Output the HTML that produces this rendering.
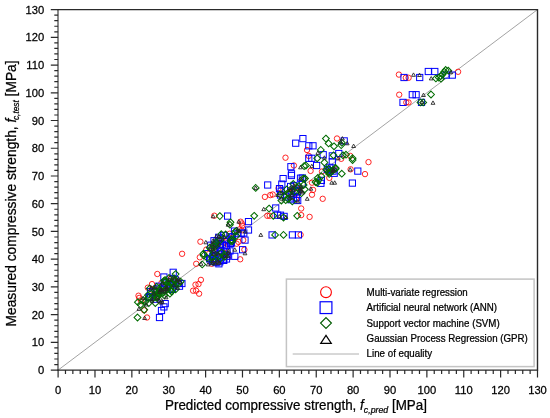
<!DOCTYPE html>
<html><head><meta charset="utf-8"><style>
html,body{margin:0;padding:0;background:#fff;}
svg{display:block;}
text{font-family:"Liberation Sans",Arial,sans-serif;fill:#000;stroke:#000;stroke-width:0.25px;}
.tl{font-size:11.5px;}
.al{font-size:13.9px;}
.al2{font-size:13.8px;}
.lg{font-size:10.2px;}
</style></head><body>
<svg width="550" height="418" viewBox="0 0 550 418">
<line x1="58.1" y1="370.1" x2="537.5" y2="9.6" stroke="#989898" stroke-width="0.9"/>
<circle cx="152.2" cy="289.7" r="2.7" fill="none" stroke="#ff0000" stroke-width="0.85"/>
<circle cx="157.8" cy="296.2" r="2.7" fill="none" stroke="#ff0000" stroke-width="0.85"/>
<circle cx="165.8" cy="288.3" r="2.7" fill="none" stroke="#ff0000" stroke-width="0.85"/>
<circle cx="170.8" cy="278.5" r="2.7" fill="none" stroke="#ff0000" stroke-width="0.85"/>
<circle cx="141.2" cy="301.1" r="2.7" fill="none" stroke="#ff0000" stroke-width="0.85"/>
<circle cx="139.2" cy="297.9" r="2.7" fill="none" stroke="#ff0000" stroke-width="0.85"/>
<circle cx="224.7" cy="248.2" r="2.7" fill="none" stroke="#ff0000" stroke-width="0.85"/>
<circle cx="220.9" cy="253.4" r="2.7" fill="none" stroke="#ff0000" stroke-width="0.85"/>
<circle cx="226.2" cy="240.8" r="2.7" fill="none" stroke="#ff0000" stroke-width="0.85"/>
<circle cx="215.2" cy="259.0" r="2.7" fill="none" stroke="#ff0000" stroke-width="0.85"/>
<circle cx="229.7" cy="233.7" r="2.7" fill="none" stroke="#ff0000" stroke-width="0.85"/>
<circle cx="219.3" cy="251.2" r="2.7" fill="none" stroke="#ff0000" stroke-width="0.85"/>
<circle cx="212.8" cy="251.6" r="2.7" fill="none" stroke="#ff0000" stroke-width="0.85"/>
<circle cx="225.3" cy="242.5" r="2.7" fill="none" stroke="#ff0000" stroke-width="0.85"/>
<circle cx="232.3" cy="237.4" r="2.7" fill="none" stroke="#ff0000" stroke-width="0.85"/>
<circle cx="228.1" cy="256.8" r="2.7" fill="none" stroke="#ff0000" stroke-width="0.85"/>
<circle cx="226.6" cy="240.7" r="2.7" fill="none" stroke="#ff0000" stroke-width="0.85"/>
<circle cx="241.8" cy="230.4" r="2.7" fill="none" stroke="#ff0000" stroke-width="0.85"/>
<circle cx="296.2" cy="187.5" r="2.7" fill="none" stroke="#ff0000" stroke-width="0.85"/>
<circle cx="296.1" cy="199.3" r="2.7" fill="none" stroke="#ff0000" stroke-width="0.85"/>
<circle cx="292.1" cy="196.9" r="2.7" fill="none" stroke="#ff0000" stroke-width="0.85"/>
<circle cx="289.0" cy="192.7" r="2.7" fill="none" stroke="#ff0000" stroke-width="0.85"/>
<circle cx="297.4" cy="192.7" r="2.7" fill="none" stroke="#ff0000" stroke-width="0.85"/>
<circle cx="328.1" cy="172.2" r="2.7" fill="none" stroke="#ff0000" stroke-width="0.85"/>
<circle cx="334.0" cy="169.2" r="2.7" fill="none" stroke="#ff0000" stroke-width="0.85"/>
<circle cx="328.7" cy="171.6" r="2.7" fill="none" stroke="#ff0000" stroke-width="0.85"/>
<circle cx="398.9" cy="74.6" r="2.7" fill="none" stroke="#ff0000" stroke-width="0.85"/>
<circle cx="405.8" cy="77.8" r="2.7" fill="none" stroke="#ff0000" stroke-width="0.85"/>
<circle cx="408.6" cy="77.8" r="2.7" fill="none" stroke="#ff0000" stroke-width="0.85"/>
<circle cx="458.1" cy="71.8" r="2.7" fill="none" stroke="#ff0000" stroke-width="0.85"/>
<circle cx="399.2" cy="94.7" r="2.7" fill="none" stroke="#ff0000" stroke-width="0.85"/>
<circle cx="406.3" cy="102.4" r="2.7" fill="none" stroke="#ff0000" stroke-width="0.85"/>
<circle cx="408.5" cy="102.4" r="2.7" fill="none" stroke="#ff0000" stroke-width="0.85"/>
<circle cx="337.0" cy="138.5" r="2.7" fill="none" stroke="#ff0000" stroke-width="0.85"/>
<circle cx="307.0" cy="150.0" r="2.7" fill="none" stroke="#ff0000" stroke-width="0.85"/>
<circle cx="285.5" cy="157.7" r="2.7" fill="none" stroke="#ff0000" stroke-width="0.85"/>
<circle cx="308.8" cy="155.9" r="2.7" fill="none" stroke="#ff0000" stroke-width="0.85"/>
<circle cx="341.2" cy="158.8" r="2.7" fill="none" stroke="#ff0000" stroke-width="0.85"/>
<circle cx="350.2" cy="155.9" r="2.7" fill="none" stroke="#ff0000" stroke-width="0.85"/>
<circle cx="368.5" cy="162.1" r="2.7" fill="none" stroke="#ff0000" stroke-width="0.85"/>
<circle cx="365.0" cy="174.1" r="2.7" fill="none" stroke="#ff0000" stroke-width="0.85"/>
<circle cx="350.6" cy="169.3" r="2.7" fill="none" stroke="#ff0000" stroke-width="0.85"/>
<circle cx="293.9" cy="165.5" r="2.7" fill="none" stroke="#ff0000" stroke-width="0.85"/>
<circle cx="310.6" cy="170.9" r="2.7" fill="none" stroke="#ff0000" stroke-width="0.85"/>
<circle cx="322.0" cy="171.5" r="2.7" fill="none" stroke="#ff0000" stroke-width="0.85"/>
<circle cx="304.7" cy="178.6" r="2.7" fill="none" stroke="#ff0000" stroke-width="0.85"/>
<circle cx="329.3" cy="177.9" r="2.7" fill="none" stroke="#ff0000" stroke-width="0.85"/>
<circle cx="312.0" cy="182.7" r="2.7" fill="none" stroke="#ff0000" stroke-width="0.85"/>
<circle cx="313.1" cy="189.9" r="2.7" fill="none" stroke="#ff0000" stroke-width="0.85"/>
<circle cx="312.0" cy="194.7" r="2.7" fill="none" stroke="#ff0000" stroke-width="0.85"/>
<circle cx="322.7" cy="198.8" r="2.7" fill="none" stroke="#ff0000" stroke-width="0.85"/>
<circle cx="301.2" cy="208.5" r="2.7" fill="none" stroke="#ff0000" stroke-width="0.85"/>
<circle cx="301.2" cy="215.1" r="2.7" fill="none" stroke="#ff0000" stroke-width="0.85"/>
<circle cx="309.6" cy="216.9" r="2.7" fill="none" stroke="#ff0000" stroke-width="0.85"/>
<circle cx="300.6" cy="234.8" r="2.7" fill="none" stroke="#ff0000" stroke-width="0.85"/>
<circle cx="267.3" cy="215.8" r="2.7" fill="none" stroke="#ff0000" stroke-width="0.85"/>
<circle cx="269.7" cy="215.8" r="2.7" fill="none" stroke="#ff0000" stroke-width="0.85"/>
<circle cx="278.6" cy="188.2" r="2.7" fill="none" stroke="#ff0000" stroke-width="0.85"/>
<circle cx="264.9" cy="196.9" r="2.7" fill="none" stroke="#ff0000" stroke-width="0.85"/>
<circle cx="270.3" cy="195.1" r="2.7" fill="none" stroke="#ff0000" stroke-width="0.85"/>
<circle cx="272.7" cy="194.5" r="2.7" fill="none" stroke="#ff0000" stroke-width="0.85"/>
<circle cx="214.3" cy="215.7" r="2.7" fill="none" stroke="#ff0000" stroke-width="0.85"/>
<circle cx="240.6" cy="221.7" r="2.7" fill="none" stroke="#ff0000" stroke-width="0.85"/>
<circle cx="241.8" cy="223.5" r="2.7" fill="none" stroke="#ff0000" stroke-width="0.85"/>
<circle cx="239.4" cy="229.4" r="2.7" fill="none" stroke="#ff0000" stroke-width="0.85"/>
<circle cx="243.2" cy="240.1" r="2.7" fill="none" stroke="#ff0000" stroke-width="0.85"/>
<circle cx="236.6" cy="243.7" r="2.7" fill="none" stroke="#ff0000" stroke-width="0.85"/>
<circle cx="238.4" cy="241.9" r="2.7" fill="none" stroke="#ff0000" stroke-width="0.85"/>
<circle cx="244.4" cy="249.7" r="2.7" fill="none" stroke="#ff0000" stroke-width="0.85"/>
<circle cx="240.2" cy="259.3" r="2.7" fill="none" stroke="#ff0000" stroke-width="0.85"/>
<circle cx="200.4" cy="241.7" r="2.7" fill="none" stroke="#ff0000" stroke-width="0.85"/>
<circle cx="206.4" cy="249.5" r="2.7" fill="none" stroke="#ff0000" stroke-width="0.85"/>
<circle cx="199.8" cy="257.3" r="2.7" fill="none" stroke="#ff0000" stroke-width="0.85"/>
<circle cx="196.2" cy="263.8" r="2.7" fill="none" stroke="#ff0000" stroke-width="0.85"/>
<circle cx="211.7" cy="263.8" r="2.7" fill="none" stroke="#ff0000" stroke-width="0.85"/>
<circle cx="242.2" cy="225.6" r="2.7" fill="none" stroke="#ff0000" stroke-width="0.85"/>
<circle cx="182.1" cy="253.8" r="2.7" fill="none" stroke="#ff0000" stroke-width="0.85"/>
<circle cx="200.9" cy="279.9" r="2.7" fill="none" stroke="#ff0000" stroke-width="0.85"/>
<circle cx="195.5" cy="284.7" r="2.7" fill="none" stroke="#ff0000" stroke-width="0.85"/>
<circle cx="198.5" cy="284.1" r="2.7" fill="none" stroke="#ff0000" stroke-width="0.85"/>
<circle cx="193.1" cy="290.7" r="2.7" fill="none" stroke="#ff0000" stroke-width="0.85"/>
<circle cx="196.1" cy="290.7" r="2.7" fill="none" stroke="#ff0000" stroke-width="0.85"/>
<circle cx="199.1" cy="293.7" r="2.7" fill="none" stroke="#ff0000" stroke-width="0.85"/>
<circle cx="157.3" cy="274.0" r="2.7" fill="none" stroke="#ff0000" stroke-width="0.85"/>
<circle cx="147.8" cy="287.7" r="2.7" fill="none" stroke="#ff0000" stroke-width="0.85"/>
<circle cx="152.0" cy="284.1" r="2.7" fill="none" stroke="#ff0000" stroke-width="0.85"/>
<circle cx="161.5" cy="282.9" r="2.7" fill="none" stroke="#ff0000" stroke-width="0.85"/>
<circle cx="147.0" cy="317.5" r="2.7" fill="none" stroke="#ff0000" stroke-width="0.85"/>
<circle cx="144.2" cy="310.3" r="2.7" fill="none" stroke="#ff0000" stroke-width="0.85"/>
<circle cx="138.5" cy="295.7" r="2.7" fill="none" stroke="#ff0000" stroke-width="0.85"/>
<rect x="172.0" y="276.4" width="6.2" height="6.2" fill="none" stroke="#0000ff" stroke-width="1"/>
<rect x="145.9" y="294.4" width="6.2" height="6.2" fill="none" stroke="#0000ff" stroke-width="1"/>
<rect x="147.4" y="290.7" width="6.2" height="6.2" fill="none" stroke="#0000ff" stroke-width="1"/>
<rect x="155.7" y="283.1" width="6.2" height="6.2" fill="none" stroke="#0000ff" stroke-width="1"/>
<rect x="159.7" y="286.4" width="6.2" height="6.2" fill="none" stroke="#0000ff" stroke-width="1"/>
<rect x="152.9" y="296.1" width="6.2" height="6.2" fill="none" stroke="#0000ff" stroke-width="1"/>
<rect x="170.4" y="282.1" width="6.2" height="6.2" fill="none" stroke="#0000ff" stroke-width="1"/>
<rect x="176.4" y="283.1" width="6.2" height="6.2" fill="none" stroke="#0000ff" stroke-width="1"/>
<rect x="169.4" y="286.3" width="6.2" height="6.2" fill="none" stroke="#0000ff" stroke-width="1"/>
<rect x="147.5" y="288.6" width="6.2" height="6.2" fill="none" stroke="#0000ff" stroke-width="1"/>
<rect x="161.4" y="282.4" width="6.2" height="6.2" fill="none" stroke="#0000ff" stroke-width="1"/>
<rect x="171.7" y="280.1" width="6.2" height="6.2" fill="none" stroke="#0000ff" stroke-width="1"/>
<rect x="167.3" y="284.8" width="6.2" height="6.2" fill="none" stroke="#0000ff" stroke-width="1"/>
<rect x="175.4" y="280.4" width="6.2" height="6.2" fill="none" stroke="#0000ff" stroke-width="1"/>
<rect x="161.8" y="279.6" width="6.2" height="6.2" fill="none" stroke="#0000ff" stroke-width="1"/>
<rect x="146.3" y="293.6" width="6.2" height="6.2" fill="none" stroke="#0000ff" stroke-width="1"/>
<rect x="166.7" y="280.8" width="6.2" height="6.2" fill="none" stroke="#0000ff" stroke-width="1"/>
<rect x="153.9" y="285.8" width="6.2" height="6.2" fill="none" stroke="#0000ff" stroke-width="1"/>
<rect x="221.7" y="251.4" width="6.2" height="6.2" fill="none" stroke="#0000ff" stroke-width="1"/>
<rect x="224.6" y="253.1" width="6.2" height="6.2" fill="none" stroke="#0000ff" stroke-width="1"/>
<rect x="210.8" y="252.5" width="6.2" height="6.2" fill="none" stroke="#0000ff" stroke-width="1"/>
<rect x="216.7" y="241.8" width="6.2" height="6.2" fill="none" stroke="#0000ff" stroke-width="1"/>
<rect x="220.6" y="232.3" width="6.2" height="6.2" fill="none" stroke="#0000ff" stroke-width="1"/>
<rect x="210.5" y="252.9" width="6.2" height="6.2" fill="none" stroke="#0000ff" stroke-width="1"/>
<rect x="211.5" y="245.9" width="6.2" height="6.2" fill="none" stroke="#0000ff" stroke-width="1"/>
<rect x="215.6" y="238.2" width="6.2" height="6.2" fill="none" stroke="#0000ff" stroke-width="1"/>
<rect x="207.3" y="255.3" width="6.2" height="6.2" fill="none" stroke="#0000ff" stroke-width="1"/>
<rect x="209.9" y="257.7" width="6.2" height="6.2" fill="none" stroke="#0000ff" stroke-width="1"/>
<rect x="216.7" y="243.9" width="6.2" height="6.2" fill="none" stroke="#0000ff" stroke-width="1"/>
<rect x="223.4" y="255.9" width="6.2" height="6.2" fill="none" stroke="#0000ff" stroke-width="1"/>
<rect x="227.3" y="238.9" width="6.2" height="6.2" fill="none" stroke="#0000ff" stroke-width="1"/>
<rect x="219.2" y="241.1" width="6.2" height="6.2" fill="none" stroke="#0000ff" stroke-width="1"/>
<rect x="206.5" y="255.8" width="6.2" height="6.2" fill="none" stroke="#0000ff" stroke-width="1"/>
<rect x="228.2" y="237.6" width="6.2" height="6.2" fill="none" stroke="#0000ff" stroke-width="1"/>
<rect x="217.2" y="235.8" width="6.2" height="6.2" fill="none" stroke="#0000ff" stroke-width="1"/>
<rect x="228.0" y="233.8" width="6.2" height="6.2" fill="none" stroke="#0000ff" stroke-width="1"/>
<rect x="211.7" y="247.2" width="6.2" height="6.2" fill="none" stroke="#0000ff" stroke-width="1"/>
<rect x="209.3" y="258.0" width="6.2" height="6.2" fill="none" stroke="#0000ff" stroke-width="1"/>
<rect x="215.6" y="234.2" width="6.2" height="6.2" fill="none" stroke="#0000ff" stroke-width="1"/>
<rect x="223.4" y="242.7" width="6.2" height="6.2" fill="none" stroke="#0000ff" stroke-width="1"/>
<rect x="217.5" y="241.6" width="6.2" height="6.2" fill="none" stroke="#0000ff" stroke-width="1"/>
<rect x="229.1" y="233.8" width="6.2" height="6.2" fill="none" stroke="#0000ff" stroke-width="1"/>
<rect x="220.3" y="256.6" width="6.2" height="6.2" fill="none" stroke="#0000ff" stroke-width="1"/>
<rect x="210.9" y="237.6" width="6.2" height="6.2" fill="none" stroke="#0000ff" stroke-width="1"/>
<rect x="220.7" y="253.6" width="6.2" height="6.2" fill="none" stroke="#0000ff" stroke-width="1"/>
<rect x="217.5" y="248.0" width="6.2" height="6.2" fill="none" stroke="#0000ff" stroke-width="1"/>
<rect x="220.7" y="257.3" width="6.2" height="6.2" fill="none" stroke="#0000ff" stroke-width="1"/>
<rect x="216.9" y="250.8" width="6.2" height="6.2" fill="none" stroke="#0000ff" stroke-width="1"/>
<rect x="212.0" y="255.3" width="6.2" height="6.2" fill="none" stroke="#0000ff" stroke-width="1"/>
<rect x="209.7" y="253.5" width="6.2" height="6.2" fill="none" stroke="#0000ff" stroke-width="1"/>
<rect x="207.7" y="242.1" width="6.2" height="6.2" fill="none" stroke="#0000ff" stroke-width="1"/>
<rect x="228.1" y="240.1" width="6.2" height="6.2" fill="none" stroke="#0000ff" stroke-width="1"/>
<rect x="204.7" y="250.5" width="6.2" height="6.2" fill="none" stroke="#0000ff" stroke-width="1"/>
<rect x="213.6" y="240.2" width="6.2" height="6.2" fill="none" stroke="#0000ff" stroke-width="1"/>
<rect x="213.0" y="259.5" width="6.2" height="6.2" fill="none" stroke="#0000ff" stroke-width="1"/>
<rect x="229.0" y="236.3" width="6.2" height="6.2" fill="none" stroke="#0000ff" stroke-width="1"/>
<rect x="227.3" y="240.4" width="6.2" height="6.2" fill="none" stroke="#0000ff" stroke-width="1"/>
<rect x="210.7" y="252.1" width="6.2" height="6.2" fill="none" stroke="#0000ff" stroke-width="1"/>
<rect x="213.9" y="237.7" width="6.2" height="6.2" fill="none" stroke="#0000ff" stroke-width="1"/>
<rect x="216.7" y="258.7" width="6.2" height="6.2" fill="none" stroke="#0000ff" stroke-width="1"/>
<rect x="224.0" y="248.7" width="6.2" height="6.2" fill="none" stroke="#0000ff" stroke-width="1"/>
<rect x="216.9" y="251.9" width="6.2" height="6.2" fill="none" stroke="#0000ff" stroke-width="1"/>
<rect x="211.5" y="247.5" width="6.2" height="6.2" fill="none" stroke="#0000ff" stroke-width="1"/>
<rect x="223.1" y="236.1" width="6.2" height="6.2" fill="none" stroke="#0000ff" stroke-width="1"/>
<rect x="226.9" y="247.8" width="6.2" height="6.2" fill="none" stroke="#0000ff" stroke-width="1"/>
<rect x="231.4" y="228.0" width="6.2" height="6.2" fill="none" stroke="#0000ff" stroke-width="1"/>
<rect x="238.1" y="230.2" width="6.2" height="6.2" fill="none" stroke="#0000ff" stroke-width="1"/>
<rect x="234.8" y="230.6" width="6.2" height="6.2" fill="none" stroke="#0000ff" stroke-width="1"/>
<rect x="290.9" y="182.4" width="6.2" height="6.2" fill="none" stroke="#0000ff" stroke-width="1"/>
<rect x="292.3" y="187.9" width="6.2" height="6.2" fill="none" stroke="#0000ff" stroke-width="1"/>
<rect x="287.5" y="183.4" width="6.2" height="6.2" fill="none" stroke="#0000ff" stroke-width="1"/>
<rect x="287.9" y="196.6" width="6.2" height="6.2" fill="none" stroke="#0000ff" stroke-width="1"/>
<rect x="290.4" y="194.9" width="6.2" height="6.2" fill="none" stroke="#0000ff" stroke-width="1"/>
<rect x="288.7" y="191.6" width="6.2" height="6.2" fill="none" stroke="#0000ff" stroke-width="1"/>
<rect x="294.4" y="188.7" width="6.2" height="6.2" fill="none" stroke="#0000ff" stroke-width="1"/>
<rect x="278.1" y="188.2" width="6.2" height="6.2" fill="none" stroke="#0000ff" stroke-width="1"/>
<rect x="293.2" y="194.8" width="6.2" height="6.2" fill="none" stroke="#0000ff" stroke-width="1"/>
<rect x="283.7" y="193.8" width="6.2" height="6.2" fill="none" stroke="#0000ff" stroke-width="1"/>
<rect x="326.7" y="164.2" width="6.2" height="6.2" fill="none" stroke="#0000ff" stroke-width="1"/>
<rect x="331.1" y="170.2" width="6.2" height="6.2" fill="none" stroke="#0000ff" stroke-width="1"/>
<rect x="324.2" y="166.4" width="6.2" height="6.2" fill="none" stroke="#0000ff" stroke-width="1"/>
<rect x="329.9" y="168.0" width="6.2" height="6.2" fill="none" stroke="#0000ff" stroke-width="1"/>
<rect x="400.9" y="74.4" width="6.2" height="6.2" fill="none" stroke="#0000ff" stroke-width="1"/>
<rect x="416.6" y="74.4" width="6.2" height="6.2" fill="none" stroke="#0000ff" stroke-width="1"/>
<rect x="425.2" y="68.4" width="6.2" height="6.2" fill="none" stroke="#0000ff" stroke-width="1"/>
<rect x="431.7" y="68.4" width="6.2" height="6.2" fill="none" stroke="#0000ff" stroke-width="1"/>
<rect x="443.0" y="72.0" width="6.2" height="6.2" fill="none" stroke="#0000ff" stroke-width="1"/>
<rect x="449.2" y="72.0" width="6.2" height="6.2" fill="none" stroke="#0000ff" stroke-width="1"/>
<rect x="409.2" y="91.6" width="6.2" height="6.2" fill="none" stroke="#0000ff" stroke-width="1"/>
<rect x="413.0" y="91.6" width="6.2" height="6.2" fill="none" stroke="#0000ff" stroke-width="1"/>
<rect x="399.9" y="99.3" width="6.2" height="6.2" fill="none" stroke="#0000ff" stroke-width="1"/>
<rect x="418.4" y="99.3" width="6.2" height="6.2" fill="none" stroke="#0000ff" stroke-width="1"/>
<rect x="299.8" y="135.5" width="6.2" height="6.2" fill="none" stroke="#0000ff" stroke-width="1"/>
<rect x="292.6" y="140.1" width="6.2" height="6.2" fill="none" stroke="#0000ff" stroke-width="1"/>
<rect x="305.7" y="142.7" width="6.2" height="6.2" fill="none" stroke="#0000ff" stroke-width="1"/>
<rect x="309.9" y="142.7" width="6.2" height="6.2" fill="none" stroke="#0000ff" stroke-width="1"/>
<rect x="341.1" y="137.8" width="6.2" height="6.2" fill="none" stroke="#0000ff" stroke-width="1"/>
<rect x="305.7" y="155.2" width="6.2" height="6.2" fill="none" stroke="#0000ff" stroke-width="1"/>
<rect x="308.7" y="155.2" width="6.2" height="6.2" fill="none" stroke="#0000ff" stroke-width="1"/>
<rect x="320.1" y="151.6" width="6.2" height="6.2" fill="none" stroke="#0000ff" stroke-width="1"/>
<rect x="329.2" y="152.8" width="6.2" height="6.2" fill="none" stroke="#0000ff" stroke-width="1"/>
<rect x="335.7" y="150.4" width="6.2" height="6.2" fill="none" stroke="#0000ff" stroke-width="1"/>
<rect x="354.7" y="168.0" width="6.2" height="6.2" fill="none" stroke="#0000ff" stroke-width="1"/>
<rect x="349.3" y="180.0" width="6.2" height="6.2" fill="none" stroke="#0000ff" stroke-width="1"/>
<rect x="287.8" y="163.6" width="6.2" height="6.2" fill="none" stroke="#0000ff" stroke-width="1"/>
<rect x="313.5" y="162.4" width="6.2" height="6.2" fill="none" stroke="#0000ff" stroke-width="1"/>
<rect x="329.2" y="158.7" width="6.2" height="6.2" fill="none" stroke="#0000ff" stroke-width="1"/>
<rect x="288.4" y="170.7" width="6.2" height="6.2" fill="none" stroke="#0000ff" stroke-width="1"/>
<rect x="280.0" y="175.5" width="6.2" height="6.2" fill="none" stroke="#0000ff" stroke-width="1"/>
<rect x="299.2" y="174.9" width="6.2" height="6.2" fill="none" stroke="#0000ff" stroke-width="1"/>
<rect x="318.3" y="177.3" width="6.2" height="6.2" fill="none" stroke="#0000ff" stroke-width="1"/>
<rect x="326.8" y="167.7" width="6.2" height="6.2" fill="none" stroke="#0000ff" stroke-width="1"/>
<rect x="317.8" y="180.2" width="6.2" height="6.2" fill="none" stroke="#0000ff" stroke-width="1"/>
<rect x="299.3" y="180.8" width="6.2" height="6.2" fill="none" stroke="#0000ff" stroke-width="1"/>
<rect x="295.3" y="231.8" width="6.2" height="6.2" fill="none" stroke="#0000ff" stroke-width="1"/>
<rect x="289.3" y="231.8" width="6.2" height="6.2" fill="none" stroke="#0000ff" stroke-width="1"/>
<rect x="269.0" y="231.8" width="6.2" height="6.2" fill="none" stroke="#0000ff" stroke-width="1"/>
<rect x="272.6" y="204.9" width="6.2" height="6.2" fill="none" stroke="#0000ff" stroke-width="1"/>
<rect x="274.4" y="212.1" width="6.2" height="6.2" fill="none" stroke="#0000ff" stroke-width="1"/>
<rect x="277.4" y="212.1" width="6.2" height="6.2" fill="none" stroke="#0000ff" stroke-width="1"/>
<rect x="281.0" y="213.3" width="6.2" height="6.2" fill="none" stroke="#0000ff" stroke-width="1"/>
<rect x="288.3" y="172.4" width="6.2" height="6.2" fill="none" stroke="#0000ff" stroke-width="1"/>
<rect x="264.6" y="181.9" width="6.2" height="6.2" fill="none" stroke="#0000ff" stroke-width="1"/>
<rect x="278.7" y="181.0" width="6.2" height="6.2" fill="none" stroke="#0000ff" stroke-width="1"/>
<rect x="297.4" y="175.1" width="6.2" height="6.2" fill="none" stroke="#0000ff" stroke-width="1"/>
<rect x="276.4" y="185.5" width="6.2" height="6.2" fill="none" stroke="#0000ff" stroke-width="1"/>
<rect x="277.4" y="191.9" width="6.2" height="6.2" fill="none" stroke="#0000ff" stroke-width="1"/>
<rect x="292.8" y="187.4" width="6.2" height="6.2" fill="none" stroke="#0000ff" stroke-width="1"/>
<rect x="294.6" y="197.4" width="6.2" height="6.2" fill="none" stroke="#0000ff" stroke-width="1"/>
<rect x="224.5" y="213.0" width="6.2" height="6.2" fill="none" stroke="#0000ff" stroke-width="1"/>
<rect x="245.4" y="218.5" width="6.2" height="6.2" fill="none" stroke="#0000ff" stroke-width="1"/>
<rect x="245.4" y="226.9" width="6.2" height="6.2" fill="none" stroke="#0000ff" stroke-width="1"/>
<rect x="240.7" y="229.9" width="6.2" height="6.2" fill="none" stroke="#0000ff" stroke-width="1"/>
<rect x="241.9" y="237.0" width="6.2" height="6.2" fill="none" stroke="#0000ff" stroke-width="1"/>
<rect x="239.5" y="246.6" width="6.2" height="6.2" fill="none" stroke="#0000ff" stroke-width="1"/>
<rect x="231.7" y="253.2" width="6.2" height="6.2" fill="none" stroke="#0000ff" stroke-width="1"/>
<rect x="215.8" y="260.7" width="6.2" height="6.2" fill="none" stroke="#0000ff" stroke-width="1"/>
<rect x="170.1" y="269.2" width="6.2" height="6.2" fill="none" stroke="#0000ff" stroke-width="1"/>
<rect x="160.8" y="273.9" width="6.2" height="6.2" fill="none" stroke="#0000ff" stroke-width="1"/>
<rect x="158.4" y="307.4" width="6.2" height="6.2" fill="none" stroke="#0000ff" stroke-width="1"/>
<rect x="160.8" y="303.8" width="6.2" height="6.2" fill="none" stroke="#0000ff" stroke-width="1"/>
<rect x="178.8" y="280.4" width="6.2" height="6.2" fill="none" stroke="#0000ff" stroke-width="1"/>
<rect x="156.4" y="314.4" width="6.2" height="6.2" fill="none" stroke="#0000ff" stroke-width="1"/>
<rect x="162.1" y="300.5" width="6.2" height="6.2" fill="none" stroke="#0000ff" stroke-width="1"/>
<path d="M169.1 274.6L172.5 278.0L169.1 281.4L165.7 278.0Z" fill="none" stroke="#006c00" stroke-width="1.05"/>
<path d="M174.7 277.7L178.1 281.1L174.7 284.5L171.3 281.1Z" fill="none" stroke="#006c00" stroke-width="1.05"/>
<path d="M168.7 283.0L172.1 286.4L168.7 289.8L165.3 286.4Z" fill="none" stroke="#006c00" stroke-width="1.05"/>
<path d="M154.0 291.7L157.4 295.1L154.0 298.5L150.6 295.1Z" fill="none" stroke="#006c00" stroke-width="1.05"/>
<path d="M157.7 289.0L161.1 292.4L157.7 295.8L154.3 292.4Z" fill="none" stroke="#006c00" stroke-width="1.05"/>
<path d="M155.3 288.7L158.7 292.1L155.3 295.5L151.9 292.1Z" fill="none" stroke="#006c00" stroke-width="1.05"/>
<path d="M157.7 292.1L161.1 295.5L157.7 298.9L154.3 295.5Z" fill="none" stroke="#006c00" stroke-width="1.05"/>
<path d="M156.7 283.4L160.1 286.8L156.7 290.2L153.3 286.8Z" fill="none" stroke="#006c00" stroke-width="1.05"/>
<path d="M149.7 285.2L153.1 288.6L149.7 292.0L146.3 288.6Z" fill="none" stroke="#006c00" stroke-width="1.05"/>
<path d="M176.4 280.4L179.8 283.8L176.4 287.2L173.0 283.8Z" fill="none" stroke="#006c00" stroke-width="1.05"/>
<path d="M163.5 289.1L166.9 292.5L163.5 295.9L160.1 292.5Z" fill="none" stroke="#006c00" stroke-width="1.05"/>
<path d="M170.5 287.0L173.9 290.4L170.5 293.8L167.1 290.4Z" fill="none" stroke="#006c00" stroke-width="1.05"/>
<path d="M174.1 283.6L177.5 287.0L174.1 290.4L170.7 287.0Z" fill="none" stroke="#006c00" stroke-width="1.05"/>
<path d="M165.0 276.7L168.4 280.1L165.0 283.5L161.6 280.1Z" fill="none" stroke="#006c00" stroke-width="1.05"/>
<path d="M170.7 279.9L174.1 283.3L170.7 286.7L167.3 283.3Z" fill="none" stroke="#006c00" stroke-width="1.05"/>
<path d="M152.7 294.2L156.1 297.6L152.7 301.0L149.3 297.6Z" fill="none" stroke="#006c00" stroke-width="1.05"/>
<path d="M154.7 287.1L158.1 290.5L154.7 293.9L151.3 290.5Z" fill="none" stroke="#006c00" stroke-width="1.05"/>
<path d="M175.6 286.0L179.0 289.4L175.6 292.8L172.2 289.4Z" fill="none" stroke="#006c00" stroke-width="1.05"/>
<path d="M174.2 275.0L177.6 278.4L174.2 281.8L170.8 278.4Z" fill="none" stroke="#006c00" stroke-width="1.05"/>
<path d="M169.3 282.4L172.7 285.8L169.3 289.2L165.9 285.8Z" fill="none" stroke="#006c00" stroke-width="1.05"/>
<path d="M166.9 279.9L170.3 283.3L166.9 286.7L163.5 283.3Z" fill="none" stroke="#006c00" stroke-width="1.05"/>
<path d="M159.0 285.4L162.4 288.8L159.0 292.2L155.6 288.8Z" fill="none" stroke="#006c00" stroke-width="1.05"/>
<path d="M164.1 287.5L167.5 290.9L164.1 294.3L160.7 290.9Z" fill="none" stroke="#006c00" stroke-width="1.05"/>
<path d="M174.2 277.4L177.6 280.8L174.2 284.2L170.8 280.8Z" fill="none" stroke="#006c00" stroke-width="1.05"/>
<path d="M171.7 288.2L175.1 291.6L171.7 295.0L168.3 291.6Z" fill="none" stroke="#006c00" stroke-width="1.05"/>
<path d="M156.4 294.2L159.8 297.6L156.4 301.0L153.0 297.6Z" fill="none" stroke="#006c00" stroke-width="1.05"/>
<path d="M162.1 289.8L165.5 293.2L162.1 296.6L158.7 293.2Z" fill="none" stroke="#006c00" stroke-width="1.05"/>
<path d="M164.4 292.0L167.8 295.4L164.4 298.8L161.0 295.4Z" fill="none" stroke="#006c00" stroke-width="1.05"/>
<path d="M179.0 279.9L182.4 283.3L179.0 286.7L175.6 283.3Z" fill="none" stroke="#006c00" stroke-width="1.05"/>
<path d="M175.3 277.1L178.7 280.5L175.3 283.9L171.9 280.5Z" fill="none" stroke="#006c00" stroke-width="1.05"/>
<path d="M158.3 290.1L161.7 293.5L158.3 296.9L154.9 293.5Z" fill="none" stroke="#006c00" stroke-width="1.05"/>
<path d="M148.3 294.4L151.7 297.8L148.3 301.2L144.9 297.8Z" fill="none" stroke="#006c00" stroke-width="1.05"/>
<path d="M162.4 282.1L165.8 285.5L162.4 288.9L159.0 285.5Z" fill="none" stroke="#006c00" stroke-width="1.05"/>
<path d="M157.4 293.9L160.8 297.3L157.4 300.7L154.0 297.3Z" fill="none" stroke="#006c00" stroke-width="1.05"/>
<path d="M164.0 277.6L167.4 281.0L164.0 284.4L160.6 281.0Z" fill="none" stroke="#006c00" stroke-width="1.05"/>
<path d="M165.7 277.9L169.1 281.3L165.7 284.7L162.3 281.3Z" fill="none" stroke="#006c00" stroke-width="1.05"/>
<path d="M168.6 283.9L172.0 287.3L168.6 290.7L165.2 287.3Z" fill="none" stroke="#006c00" stroke-width="1.05"/>
<path d="M155.3 299.6L158.7 303.0L155.3 306.4L151.9 303.0Z" fill="none" stroke="#006c00" stroke-width="1.05"/>
<path d="M160.0 285.9L163.4 289.3L160.0 292.7L156.6 289.3Z" fill="none" stroke="#006c00" stroke-width="1.05"/>
<path d="M145.4 298.1L148.8 301.5L145.4 304.9L142.0 301.5Z" fill="none" stroke="#006c00" stroke-width="1.05"/>
<path d="M140.6 301.2L144.0 304.6L140.6 308.0L137.2 304.6Z" fill="none" stroke="#006c00" stroke-width="1.05"/>
<path d="M148.8 299.6L152.2 303.0L148.8 306.4L145.4 303.0Z" fill="none" stroke="#006c00" stroke-width="1.05"/>
<path d="M147.9 291.8L151.3 295.2L147.9 298.6L144.5 295.2Z" fill="none" stroke="#006c00" stroke-width="1.05"/>
<path d="M220.1 255.5L223.5 258.9L220.1 262.3L216.7 258.9Z" fill="none" stroke="#006c00" stroke-width="1.05"/>
<path d="M221.5 249.1L224.9 252.5L221.5 255.9L218.1 252.5Z" fill="none" stroke="#006c00" stroke-width="1.05"/>
<path d="M224.8 253.4L228.2 256.8L224.8 260.2L221.4 256.8Z" fill="none" stroke="#006c00" stroke-width="1.05"/>
<path d="M224.5 251.1L227.9 254.5L224.5 257.9L221.1 254.5Z" fill="none" stroke="#006c00" stroke-width="1.05"/>
<path d="M231.6 236.1L235.0 239.5L231.6 242.9L228.2 239.5Z" fill="none" stroke="#006c00" stroke-width="1.05"/>
<path d="M225.7 231.1L229.1 234.5L225.7 237.9L222.3 234.5Z" fill="none" stroke="#006c00" stroke-width="1.05"/>
<path d="M218.7 252.9L222.1 256.3L218.7 259.7L215.3 256.3Z" fill="none" stroke="#006c00" stroke-width="1.05"/>
<path d="M215.9 238.8L219.3 242.2L215.9 245.6L212.5 242.2Z" fill="none" stroke="#006c00" stroke-width="1.05"/>
<path d="M232.4 237.7L235.8 241.1L232.4 244.5L229.0 241.1Z" fill="none" stroke="#006c00" stroke-width="1.05"/>
<path d="M211.0 245.8L214.4 249.2L211.0 252.6L207.6 249.2Z" fill="none" stroke="#006c00" stroke-width="1.05"/>
<path d="M221.3 230.8L224.7 234.2L221.3 237.6L217.9 234.2Z" fill="none" stroke="#006c00" stroke-width="1.05"/>
<path d="M213.0 258.1L216.4 261.5L213.0 264.9L209.6 261.5Z" fill="none" stroke="#006c00" stroke-width="1.05"/>
<path d="M213.5 249.3L216.9 252.7L213.5 256.1L210.1 252.7Z" fill="none" stroke="#006c00" stroke-width="1.05"/>
<path d="M215.8 242.6L219.2 246.0L215.8 249.4L212.4 246.0Z" fill="none" stroke="#006c00" stroke-width="1.05"/>
<path d="M212.2 254.3L215.6 257.7L212.2 261.1L208.8 257.7Z" fill="none" stroke="#006c00" stroke-width="1.05"/>
<path d="M230.9 237.6L234.3 241.0L230.9 244.4L227.5 241.0Z" fill="none" stroke="#006c00" stroke-width="1.05"/>
<path d="M215.3 240.8L218.7 244.2L215.3 247.6L211.9 244.2Z" fill="none" stroke="#006c00" stroke-width="1.05"/>
<path d="M213.1 242.5L216.5 245.9L213.1 249.3L209.7 245.9Z" fill="none" stroke="#006c00" stroke-width="1.05"/>
<path d="M220.2 236.8L223.6 240.2L220.2 243.6L216.8 240.2Z" fill="none" stroke="#006c00" stroke-width="1.05"/>
<path d="M209.7 244.3L213.1 247.7L209.7 251.1L206.3 247.7Z" fill="none" stroke="#006c00" stroke-width="1.05"/>
<path d="M236.3 232.4L239.7 235.8L236.3 239.2L232.9 235.8Z" fill="none" stroke="#006c00" stroke-width="1.05"/>
<path d="M236.4 227.4L239.8 230.8L236.4 234.2L233.0 230.8Z" fill="none" stroke="#006c00" stroke-width="1.05"/>
<path d="M235.2 228.4L238.6 231.8L235.2 235.2L231.8 231.8Z" fill="none" stroke="#006c00" stroke-width="1.05"/>
<path d="M285.7 196.8L289.1 200.2L285.7 203.6L282.3 200.2Z" fill="none" stroke="#006c00" stroke-width="1.05"/>
<path d="M292.2 186.7L295.6 190.1L292.2 193.5L288.8 190.1Z" fill="none" stroke="#006c00" stroke-width="1.05"/>
<path d="M288.2 195.6L291.6 199.0L288.2 202.4L284.8 199.0Z" fill="none" stroke="#006c00" stroke-width="1.05"/>
<path d="M280.2 191.2L283.6 194.6L280.2 198.0L276.8 194.6Z" fill="none" stroke="#006c00" stroke-width="1.05"/>
<path d="M297.6 184.4L301.0 187.8L297.6 191.2L294.2 187.8Z" fill="none" stroke="#006c00" stroke-width="1.05"/>
<path d="M288.0 189.4L291.4 192.8L288.0 196.2L284.6 192.8Z" fill="none" stroke="#006c00" stroke-width="1.05"/>
<path d="M299.0 182.6L302.4 186.0L299.0 189.4L295.6 186.0Z" fill="none" stroke="#006c00" stroke-width="1.05"/>
<path d="M288.5 190.5L291.9 193.9L288.5 197.3L285.1 193.9Z" fill="none" stroke="#006c00" stroke-width="1.05"/>
<path d="M294.5 188.2L297.9 191.6L294.5 195.0L291.1 191.6Z" fill="none" stroke="#006c00" stroke-width="1.05"/>
<path d="M328.5 165.4L331.9 168.8L328.5 172.2L325.1 168.8Z" fill="none" stroke="#006c00" stroke-width="1.05"/>
<path d="M335.4 164.4L338.8 167.8L335.4 171.2L332.0 167.8Z" fill="none" stroke="#006c00" stroke-width="1.05"/>
<path d="M329.2 170.5L332.6 173.9L329.2 177.3L325.8 173.9Z" fill="none" stroke="#006c00" stroke-width="1.05"/>
<path d="M330.3 169.0L333.7 172.4L330.3 175.8L326.9 172.4Z" fill="none" stroke="#006c00" stroke-width="1.05"/>
<path d="M335.8 165.4L339.2 168.8L335.8 172.2L332.4 168.8Z" fill="none" stroke="#006c00" stroke-width="1.05"/>
<path d="M333.4 166.6L336.8 170.0L333.4 173.4L330.0 170.0Z" fill="none" stroke="#006c00" stroke-width="1.05"/>
<path d="M435.9 75.0L439.3 78.4L435.9 81.8L432.5 78.4Z" fill="none" stroke="#006c00" stroke-width="1.05"/>
<path d="M438.8 74.2L442.2 77.6L438.8 81.0L435.4 77.6Z" fill="none" stroke="#006c00" stroke-width="1.05"/>
<path d="M440.6 72.8L444.0 76.2L440.6 79.6L437.2 76.2Z" fill="none" stroke="#006c00" stroke-width="1.05"/>
<path d="M442.5 71.0L445.9 74.4L442.5 77.8L439.1 74.4Z" fill="none" stroke="#006c00" stroke-width="1.05"/>
<path d="M444.3 68.4L447.7 71.8L444.3 75.2L440.9 71.8Z" fill="none" stroke="#006c00" stroke-width="1.05"/>
<path d="M445.7 66.6L449.1 70.0L445.7 73.4L442.3 70.0Z" fill="none" stroke="#006c00" stroke-width="1.05"/>
<path d="M441.0 75.3L444.4 78.7L441.0 82.1L437.6 78.7Z" fill="none" stroke="#006c00" stroke-width="1.05"/>
<path d="M448.3 67.3L451.7 70.7L448.3 74.1L444.9 70.7Z" fill="none" stroke="#006c00" stroke-width="1.05"/>
<path d="M431.0 91.1L434.4 94.5L431.0 97.9L427.6 94.5Z" fill="none" stroke="#006c00" stroke-width="1.05"/>
<path d="M420.5 99.0L423.9 102.4L420.5 105.8L417.1 102.4Z" fill="none" stroke="#006c00" stroke-width="1.05"/>
<path d="M423.2 99.0L426.6 102.4L423.2 105.8L419.8 102.4Z" fill="none" stroke="#006c00" stroke-width="1.05"/>
<path d="M325.9 135.2L329.3 138.6L325.9 142.0L322.5 138.6Z" fill="none" stroke="#006c00" stroke-width="1.05"/>
<path d="M328.6 140.0L332.0 143.4L328.6 146.8L325.2 143.4Z" fill="none" stroke="#006c00" stroke-width="1.05"/>
<path d="M341.8 139.3L345.2 142.7L341.8 146.1L338.4 142.7Z" fill="none" stroke="#006c00" stroke-width="1.05"/>
<path d="M341.2 141.7L344.6 145.1L341.2 148.5L337.8 145.1Z" fill="none" stroke="#006c00" stroke-width="1.05"/>
<path d="M334.0 142.9L337.4 146.3L334.0 149.7L330.6 146.3Z" fill="none" stroke="#006c00" stroke-width="1.05"/>
<path d="M320.8 146.5L324.2 149.9L320.8 153.3L317.4 149.9Z" fill="none" stroke="#006c00" stroke-width="1.05"/>
<path d="M317.2 154.9L320.6 158.3L317.2 161.7L313.8 158.3Z" fill="none" stroke="#006c00" stroke-width="1.05"/>
<path d="M324.4 159.1L327.8 162.5L324.4 165.9L321.0 162.5Z" fill="none" stroke="#006c00" stroke-width="1.05"/>
<path d="M333.5 151.9L336.9 155.3L333.5 158.7L330.1 155.3Z" fill="none" stroke="#006c00" stroke-width="1.05"/>
<path d="M343.0 151.9L346.4 155.3L343.0 158.7L339.6 155.3Z" fill="none" stroke="#006c00" stroke-width="1.05"/>
<path d="M346.0 151.3L349.4 154.7L346.0 158.1L342.6 154.7Z" fill="none" stroke="#006c00" stroke-width="1.05"/>
<path d="M352.6 154.8L356.0 158.2L352.6 161.6L349.2 158.2Z" fill="none" stroke="#006c00" stroke-width="1.05"/>
<path d="M304.1 162.7L307.5 166.1L304.1 169.5L300.7 166.1Z" fill="none" stroke="#006c00" stroke-width="1.05"/>
<path d="M305.9 162.1L309.3 165.5L305.9 168.9L302.5 165.5Z" fill="none" stroke="#006c00" stroke-width="1.05"/>
<path d="M352.6 156.6L356.0 160.0L352.6 163.4L349.2 160.0Z" fill="none" stroke="#006c00" stroke-width="1.05"/>
<path d="M326.2 166.3L329.6 169.7L326.2 173.1L322.8 169.7Z" fill="none" stroke="#006c00" stroke-width="1.05"/>
<path d="M328.6 168.6L332.0 172.0L328.6 175.4L325.2 172.0Z" fill="none" stroke="#006c00" stroke-width="1.05"/>
<path d="M317.8 174.6L321.2 178.0L317.8 181.4L314.4 178.0Z" fill="none" stroke="#006c00" stroke-width="1.05"/>
<path d="M321.4 172.8L324.8 176.2L321.4 179.6L318.0 176.2Z" fill="none" stroke="#006c00" stroke-width="1.05"/>
<path d="M317.2 179.4L320.6 182.8L317.2 186.2L313.8 182.8Z" fill="none" stroke="#006c00" stroke-width="1.05"/>
<path d="M293.3 180.6L296.7 184.0L293.3 187.4L289.9 184.0Z" fill="none" stroke="#006c00" stroke-width="1.05"/>
<path d="M341.8 170.3L345.2 173.7L341.8 177.1L338.4 173.7Z" fill="none" stroke="#006c00" stroke-width="1.05"/>
<path d="M315.5 178.7L318.9 182.1L315.5 185.5L312.1 182.1Z" fill="none" stroke="#006c00" stroke-width="1.05"/>
<path d="M318.5 176.9L321.9 180.3L318.5 183.7L315.1 180.3Z" fill="none" stroke="#006c00" stroke-width="1.05"/>
<path d="M303.6 181.7L307.0 185.1L303.6 188.5L300.2 185.1Z" fill="none" stroke="#006c00" stroke-width="1.05"/>
<path d="M304.8 185.9L308.2 189.3L304.8 192.7L301.4 189.3Z" fill="none" stroke="#006c00" stroke-width="1.05"/>
<path d="M283.5 231.5L286.9 234.9L283.5 238.3L280.1 234.9Z" fill="none" stroke="#006c00" stroke-width="1.05"/>
<path d="M275.1 231.5L278.5 234.9L275.1 238.3L271.7 234.9Z" fill="none" stroke="#006c00" stroke-width="1.05"/>
<path d="M269.1 205.2L272.5 208.6L269.1 212.0L265.7 208.6Z" fill="none" stroke="#006c00" stroke-width="1.05"/>
<path d="M254.2 212.4L257.6 215.8L254.2 219.2L250.8 215.8Z" fill="none" stroke="#006c00" stroke-width="1.05"/>
<path d="M273.3 212.4L276.7 215.8L273.3 219.2L269.9 215.8Z" fill="none" stroke="#006c00" stroke-width="1.05"/>
<path d="M283.5 214.1L286.9 217.5L283.5 220.9L280.1 217.5Z" fill="none" stroke="#006c00" stroke-width="1.05"/>
<path d="M297.2 212.4L300.6 215.8L297.2 219.2L293.8 215.8Z" fill="none" stroke="#006c00" stroke-width="1.05"/>
<path d="M305.0 175.2L308.4 178.6L305.0 182.0L301.6 178.6Z" fill="none" stroke="#006c00" stroke-width="1.05"/>
<path d="M303.2 175.2L306.6 178.6L303.2 182.0L299.8 178.6Z" fill="none" stroke="#006c00" stroke-width="1.05"/>
<path d="M301.4 189.8L304.8 193.2L301.4 196.6L298.0 193.2Z" fill="none" stroke="#006c00" stroke-width="1.05"/>
<path d="M286.8 186.1L290.2 189.5L286.8 192.9L283.4 189.5Z" fill="none" stroke="#006c00" stroke-width="1.05"/>
<path d="M284.1 192.5L287.5 195.9L284.1 199.3L280.7 195.9Z" fill="none" stroke="#006c00" stroke-width="1.05"/>
<path d="M292.3 198.0L295.7 201.4L292.3 204.8L288.9 201.4Z" fill="none" stroke="#006c00" stroke-width="1.05"/>
<path d="M281.4 197.1L284.8 200.5L281.4 203.9L278.0 200.5Z" fill="none" stroke="#006c00" stroke-width="1.05"/>
<path d="M255.7 184.5L259.1 187.9L255.7 191.3L252.3 187.9Z" fill="none" stroke="#006c00" stroke-width="1.05"/>
<path d="M219.8 212.7L223.2 216.1L219.8 219.5L216.4 216.1Z" fill="none" stroke="#006c00" stroke-width="1.05"/>
<path d="M230.5 218.9L233.9 222.3L230.5 225.7L227.1 222.3Z" fill="none" stroke="#006c00" stroke-width="1.05"/>
<path d="M229.9 221.3L233.3 224.7L229.9 228.1L226.5 224.7Z" fill="none" stroke="#006c00" stroke-width="1.05"/>
<path d="M202.2 261.0L205.6 264.4L202.2 267.8L198.8 264.4Z" fill="none" stroke="#006c00" stroke-width="1.05"/>
<path d="M203.4 250.3L206.8 253.7L203.4 257.1L200.0 253.7Z" fill="none" stroke="#006c00" stroke-width="1.05"/>
<path d="M203.7 252.2L207.1 255.6L203.7 259.0L200.3 255.6Z" fill="none" stroke="#006c00" stroke-width="1.05"/>
<path d="M207.2 254.5L210.6 257.9L207.2 261.3L203.8 257.9Z" fill="none" stroke="#006c00" stroke-width="1.05"/>
<path d="M175.6 270.7L179.0 274.1L175.6 277.5L172.2 274.1Z" fill="none" stroke="#006c00" stroke-width="1.05"/>
<path d="M169.9 290.3L173.3 293.7L169.9 297.1L166.5 293.7Z" fill="none" stroke="#006c00" stroke-width="1.05"/>
<path d="M180.7 278.3L184.1 281.7L180.7 285.1L177.3 281.7Z" fill="none" stroke="#006c00" stroke-width="1.05"/>
<path d="M137.5 314.1L140.9 317.5L137.5 320.9L134.1 317.5Z" fill="none" stroke="#006c00" stroke-width="1.05"/>
<path d="M137.9 298.8L141.3 302.2L137.9 305.6L134.5 302.2Z" fill="none" stroke="#006c00" stroke-width="1.05"/>
<path d="M144.2 306.4L147.6 309.8L144.2 313.2L140.8 309.8Z" fill="none" stroke="#006c00" stroke-width="1.05"/>
<path d="M142.7 297.1L146.1 300.5L142.7 303.9L139.3 300.5Z" fill="none" stroke="#006c00" stroke-width="1.05"/>
<path d="M166.6 285.2L168.5 288.6L164.7 288.6Z" fill="none" stroke="#262626" stroke-width="0.9"/>
<path d="M157.2 296.3L159.1 299.7L155.3 299.7Z" fill="none" stroke="#262626" stroke-width="0.9"/>
<path d="M151.0 285.8L152.9 289.2L149.1 289.2Z" fill="none" stroke="#262626" stroke-width="0.9"/>
<path d="M166.7 286.9L168.6 290.3L164.8 290.3Z" fill="none" stroke="#262626" stroke-width="0.9"/>
<path d="M155.4 285.0L157.3 288.4L153.5 288.4Z" fill="none" stroke="#262626" stroke-width="0.9"/>
<path d="M159.2 298.9L161.1 302.3L157.3 302.3Z" fill="none" stroke="#262626" stroke-width="0.9"/>
<path d="M159.6 290.0L161.5 293.4L157.7 293.4Z" fill="none" stroke="#262626" stroke-width="0.9"/>
<path d="M170.0 275.6L171.9 279.0L168.1 279.0Z" fill="none" stroke="#262626" stroke-width="0.9"/>
<path d="M162.2 300.3L164.1 303.7L160.3 303.7Z" fill="none" stroke="#262626" stroke-width="0.9"/>
<path d="M153.9 291.6L155.8 295.0L152.0 295.0Z" fill="none" stroke="#262626" stroke-width="0.9"/>
<path d="M173.8 283.4L175.7 286.8L171.9 286.8Z" fill="none" stroke="#262626" stroke-width="0.9"/>
<path d="M160.6 300.6L162.5 304.0L158.7 304.0Z" fill="none" stroke="#262626" stroke-width="0.9"/>
<path d="M152.1 299.4L154.0 302.8L150.2 302.8Z" fill="none" stroke="#262626" stroke-width="0.9"/>
<path d="M152.0 297.2L153.9 300.6L150.1 300.6Z" fill="none" stroke="#262626" stroke-width="0.9"/>
<path d="M161.7 298.5L163.6 301.9L159.8 301.9Z" fill="none" stroke="#262626" stroke-width="0.9"/>
<path d="M177.7 285.9L179.6 289.3L175.8 289.3Z" fill="none" stroke="#262626" stroke-width="0.9"/>
<path d="M164.6 289.7L166.5 293.1L162.7 293.1Z" fill="none" stroke="#262626" stroke-width="0.9"/>
<path d="M166.1 295.4L168.0 298.8L164.2 298.8Z" fill="none" stroke="#262626" stroke-width="0.9"/>
<path d="M165.1 287.5L167.0 290.9L163.2 290.9Z" fill="none" stroke="#262626" stroke-width="0.9"/>
<path d="M177.5 278.4L179.4 281.8L175.6 281.8Z" fill="none" stroke="#262626" stroke-width="0.9"/>
<path d="M169.4 278.1L171.3 281.5L167.5 281.5Z" fill="none" stroke="#262626" stroke-width="0.9"/>
<path d="M179.9 280.2L181.8 283.6L178.0 283.6Z" fill="none" stroke="#262626" stroke-width="0.9"/>
<path d="M160.5 287.7L162.4 291.1L158.6 291.1Z" fill="none" stroke="#262626" stroke-width="0.9"/>
<path d="M151.4 285.9L153.3 289.3L149.5 289.3Z" fill="none" stroke="#262626" stroke-width="0.9"/>
<path d="M174.3 276.4L176.2 279.8L172.4 279.8Z" fill="none" stroke="#262626" stroke-width="0.9"/>
<path d="M178.8 277.1L180.7 280.5L176.9 280.5Z" fill="none" stroke="#262626" stroke-width="0.9"/>
<path d="M161.7 288.0L163.6 291.4L159.8 291.4Z" fill="none" stroke="#262626" stroke-width="0.9"/>
<path d="M160.4 288.3L162.3 291.7L158.5 291.7Z" fill="none" stroke="#262626" stroke-width="0.9"/>
<path d="M162.2 281.5L164.1 284.9L160.3 284.9Z" fill="none" stroke="#262626" stroke-width="0.9"/>
<path d="M146.2 302.6L148.1 306.0L144.3 306.0Z" fill="none" stroke="#262626" stroke-width="0.9"/>
<path d="M143.3 296.3L145.2 299.7L141.4 299.7Z" fill="none" stroke="#262626" stroke-width="0.9"/>
<path d="M228.5 249.2L230.4 252.6L226.6 252.6Z" fill="none" stroke="#262626" stroke-width="0.9"/>
<path d="M216.4 234.4L218.3 237.8L214.5 237.8Z" fill="none" stroke="#262626" stroke-width="0.9"/>
<path d="M219.1 234.8L221.0 238.2L217.2 238.2Z" fill="none" stroke="#262626" stroke-width="0.9"/>
<path d="M212.2 261.4L214.1 264.8L210.3 264.8Z" fill="none" stroke="#262626" stroke-width="0.9"/>
<path d="M210.7 247.3L212.6 250.7L208.8 250.7Z" fill="none" stroke="#262626" stroke-width="0.9"/>
<path d="M228.1 250.7L230.0 254.1L226.2 254.1Z" fill="none" stroke="#262626" stroke-width="0.9"/>
<path d="M212.7 259.2L214.6 262.6L210.8 262.6Z" fill="none" stroke="#262626" stroke-width="0.9"/>
<path d="M213.7 248.8L215.6 252.2L211.8 252.2Z" fill="none" stroke="#262626" stroke-width="0.9"/>
<path d="M218.6 260.7L220.5 264.1L216.7 264.1Z" fill="none" stroke="#262626" stroke-width="0.9"/>
<path d="M217.2 259.8L219.1 263.2L215.3 263.2Z" fill="none" stroke="#262626" stroke-width="0.9"/>
<path d="M214.8 245.4L216.7 248.8L212.9 248.8Z" fill="none" stroke="#262626" stroke-width="0.9"/>
<path d="M213.1 238.8L215.0 242.2L211.2 242.2Z" fill="none" stroke="#262626" stroke-width="0.9"/>
<path d="M213.7 251.8L215.6 255.2L211.8 255.2Z" fill="none" stroke="#262626" stroke-width="0.9"/>
<path d="M220.1 237.5L222.0 240.9L218.2 240.9Z" fill="none" stroke="#262626" stroke-width="0.9"/>
<path d="M217.8 251.7L219.7 255.1L215.9 255.1Z" fill="none" stroke="#262626" stroke-width="0.9"/>
<path d="M219.3 242.7L221.2 246.1L217.4 246.1Z" fill="none" stroke="#262626" stroke-width="0.9"/>
<path d="M212.0 242.4L213.9 245.8L210.1 245.8Z" fill="none" stroke="#262626" stroke-width="0.9"/>
<path d="M219.4 260.8L221.3 264.2L217.5 264.2Z" fill="none" stroke="#262626" stroke-width="0.9"/>
<path d="M227.9 254.0L229.8 257.4L226.0 257.4Z" fill="none" stroke="#262626" stroke-width="0.9"/>
<path d="M215.5 261.5L217.4 264.9L213.6 264.9Z" fill="none" stroke="#262626" stroke-width="0.9"/>
<path d="M224.5 254.3L226.4 257.7L222.6 257.7Z" fill="none" stroke="#262626" stroke-width="0.9"/>
<path d="M224.3 234.9L226.2 238.3L222.4 238.3Z" fill="none" stroke="#262626" stroke-width="0.9"/>
<path d="M245.2 229.7L247.1 233.1L243.3 233.1Z" fill="none" stroke="#262626" stroke-width="0.9"/>
<path d="M239.4 228.9L241.3 232.3L237.5 232.3Z" fill="none" stroke="#262626" stroke-width="0.9"/>
<path d="M237.7 228.5L239.6 231.9L235.8 231.9Z" fill="none" stroke="#262626" stroke-width="0.9"/>
<path d="M300.5 189.3L302.4 192.7L298.6 192.7Z" fill="none" stroke="#262626" stroke-width="0.9"/>
<path d="M291.8 193.0L293.7 196.4L289.9 196.4Z" fill="none" stroke="#262626" stroke-width="0.9"/>
<path d="M290.3 195.8L292.2 199.2L288.4 199.2Z" fill="none" stroke="#262626" stroke-width="0.9"/>
<path d="M301.2 188.7L303.1 192.1L299.3 192.1Z" fill="none" stroke="#262626" stroke-width="0.9"/>
<path d="M290.2 186.1L292.1 189.5L288.3 189.5Z" fill="none" stroke="#262626" stroke-width="0.9"/>
<path d="M293.9 183.5L295.8 186.9L292.0 186.9Z" fill="none" stroke="#262626" stroke-width="0.9"/>
<path d="M290.6 188.5L292.5 191.9L288.7 191.9Z" fill="none" stroke="#262626" stroke-width="0.9"/>
<path d="M281.4 196.7L283.3 200.1L279.5 200.1Z" fill="none" stroke="#262626" stroke-width="0.9"/>
<path d="M302.5 190.5L304.4 193.9L300.6 193.9Z" fill="none" stroke="#262626" stroke-width="0.9"/>
<path d="M300.9 184.9L302.8 188.3L299.0 188.3Z" fill="none" stroke="#262626" stroke-width="0.9"/>
<path d="M300.4 186.8L302.3 190.2L298.5 190.2Z" fill="none" stroke="#262626" stroke-width="0.9"/>
<path d="M281.6 190.6L283.5 194.0L279.7 194.0Z" fill="none" stroke="#262626" stroke-width="0.9"/>
<path d="M333.6 167.6L335.5 171.0L331.7 171.0Z" fill="none" stroke="#262626" stroke-width="0.9"/>
<path d="M332.7 169.2L334.6 172.6L330.8 172.6Z" fill="none" stroke="#262626" stroke-width="0.9"/>
<path d="M333.6 167.9L335.5 171.3L331.7 171.3Z" fill="none" stroke="#262626" stroke-width="0.9"/>
<path d="M413.5 72.9L415.4 76.3L411.6 76.3Z" fill="none" stroke="#262626" stroke-width="0.9"/>
<path d="M419.5 73.1L421.4 76.5L417.6 76.5Z" fill="none" stroke="#262626" stroke-width="0.9"/>
<path d="M431.2 76.5L433.1 79.9L429.3 79.9Z" fill="none" stroke="#262626" stroke-width="0.9"/>
<path d="M450.8 70.3L452.7 73.7L448.9 73.7Z" fill="none" stroke="#262626" stroke-width="0.9"/>
<path d="M423.5 93.1L425.4 96.5L421.6 96.5Z" fill="none" stroke="#262626" stroke-width="0.9"/>
<path d="M422.0 100.5L423.9 103.9L420.1 103.9Z" fill="none" stroke="#262626" stroke-width="0.9"/>
<path d="M433.0 100.9L434.9 104.3L431.1 104.3Z" fill="none" stroke="#262626" stroke-width="0.9"/>
<path d="M342.4 136.6L344.3 140.0L340.5 140.0Z" fill="none" stroke="#262626" stroke-width="0.9"/>
<path d="M347.2 141.4L349.1 144.8L345.3 144.8Z" fill="none" stroke="#262626" stroke-width="0.9"/>
<path d="M340.6 140.2L342.5 143.6L338.7 143.6Z" fill="none" stroke="#262626" stroke-width="0.9"/>
<path d="M353.6 144.1L355.5 147.5L351.7 147.5Z" fill="none" stroke="#262626" stroke-width="0.9"/>
<path d="M317.8 151.0L319.7 154.4L315.9 154.4Z" fill="none" stroke="#262626" stroke-width="0.9"/>
<path d="M324.4 155.8L326.3 159.2L322.5 159.2Z" fill="none" stroke="#262626" stroke-width="0.9"/>
<path d="M338.2 156.3L340.1 159.7L336.3 159.7Z" fill="none" stroke="#262626" stroke-width="0.9"/>
<path d="M350.2 167.6L352.1 171.0L348.3 171.0Z" fill="none" stroke="#262626" stroke-width="0.9"/>
<path d="M300.5 165.4L302.4 168.8L298.6 168.8Z" fill="none" stroke="#262626" stroke-width="0.9"/>
<path d="M311.8 164.2L313.7 167.6L309.9 167.6Z" fill="none" stroke="#262626" stroke-width="0.9"/>
<path d="M300.5 176.7L302.4 180.1L298.6 180.1Z" fill="none" stroke="#262626" stroke-width="0.9"/>
<path d="M331.7 180.8L333.6 184.2L329.8 184.2Z" fill="none" stroke="#262626" stroke-width="0.9"/>
<path d="M334.7 180.8L336.6 184.2L332.8 184.2Z" fill="none" stroke="#262626" stroke-width="0.9"/>
<path d="M310.8 186.8L312.7 190.2L308.9 190.2Z" fill="none" stroke="#262626" stroke-width="0.9"/>
<path d="M307.2 196.9L309.1 200.3L305.3 200.3Z" fill="none" stroke="#262626" stroke-width="0.9"/>
<path d="M260.8 233.0L262.7 236.4L258.9 236.4Z" fill="none" stroke="#262626" stroke-width="0.9"/>
<path d="M263.7 207.3L265.6 210.7L261.8 210.7Z" fill="none" stroke="#262626" stroke-width="0.9"/>
<path d="M279.3 214.5L281.2 217.9L277.4 217.9Z" fill="none" stroke="#262626" stroke-width="0.9"/>
<path d="M285.9 215.1L287.8 218.5L284.0 218.5Z" fill="none" stroke="#262626" stroke-width="0.9"/>
<path d="M293.2 187.6L295.1 191.0L291.3 191.0Z" fill="none" stroke="#262626" stroke-width="0.9"/>
<path d="M277.7 193.1L279.6 196.5L275.8 196.5Z" fill="none" stroke="#262626" stroke-width="0.9"/>
<path d="M297.7 199.5L299.6 202.9L295.8 202.9Z" fill="none" stroke="#262626" stroke-width="0.9"/>
<path d="M255.7 186.0L257.6 189.4L253.8 189.4Z" fill="none" stroke="#262626" stroke-width="0.9"/>
<path d="M213.1 214.4L215.0 217.8L211.2 217.8Z" fill="none" stroke="#262626" stroke-width="0.9"/>
<path d="M228.1 222.8L230.0 226.2L226.2 226.2Z" fill="none" stroke="#262626" stroke-width="0.9"/>
<path d="M238.8 219.8L240.7 223.2L236.9 223.2Z" fill="none" stroke="#262626" stroke-width="0.9"/>
<path d="M234.8 247.8L236.7 251.2L232.9 251.2Z" fill="none" stroke="#262626" stroke-width="0.9"/>
<path d="M245.0 251.4L246.9 254.8L243.1 254.8Z" fill="none" stroke="#262626" stroke-width="0.9"/>
<path d="M205.8 240.4L207.7 243.8L203.9 243.8Z" fill="none" stroke="#262626" stroke-width="0.9"/>
<path d="M201.0 261.9L202.9 265.3L199.1 265.3Z" fill="none" stroke="#262626" stroke-width="0.9"/>
<path d="M208.1 262.5L210.0 265.9L206.2 265.9Z" fill="none" stroke="#262626" stroke-width="0.9"/>
<path d="M144.6 316.1L146.5 319.5L142.7 319.5Z" fill="none" stroke="#262626" stroke-width="0.9"/>
<path d="M138.9 307.0L140.8 310.4L137.0 310.4Z" fill="none" stroke="#262626" stroke-width="0.9"/>
<path d="M57.4 9.6H537.5V370.1H57.4" fill="none" stroke="#2a2a2a" stroke-width="1.4"/>
<path d="M58.0 8.9V370.8" fill="none" stroke="#222" stroke-width="1.05"/>
<path d="M58.10 370.1v7.3 M58.1 370.10h-7.3 M65.48 370.1v3.8 M58.1 364.55h-3.8 M72.85 370.1v3.8 M58.1 359.01h-3.8 M80.23 370.1v3.8 M58.1 353.46h-3.8 M87.60 370.1v3.8 M58.1 347.92h-3.8 M94.98 370.1v7.3 M58.1 342.37h-7.3 M102.35 370.1v3.8 M58.1 336.82h-3.8 M109.73 370.1v3.8 M58.1 331.28h-3.8 M117.10 370.1v3.8 M58.1 325.73h-3.8 M124.48 370.1v3.8 M58.1 320.18h-3.8 M131.85 370.1v7.3 M58.1 314.64h-7.3 M139.23 370.1v3.8 M58.1 309.09h-3.8 M146.60 370.1v3.8 M58.1 303.55h-3.8 M153.98 370.1v3.8 M58.1 298.00h-3.8 M161.36 370.1v3.8 M58.1 292.45h-3.8 M168.73 370.1v7.3 M58.1 286.91h-7.3 M176.11 370.1v3.8 M58.1 281.36h-3.8 M183.48 370.1v3.8 M58.1 275.82h-3.8 M190.86 370.1v3.8 M58.1 270.27h-3.8 M198.23 370.1v3.8 M58.1 264.72h-3.8 M205.61 370.1v7.3 M58.1 259.18h-7.3 M212.98 370.1v3.8 M58.1 253.63h-3.8 M220.36 370.1v3.8 M58.1 248.08h-3.8 M227.73 370.1v3.8 M58.1 242.54h-3.8 M235.11 370.1v3.8 M58.1 236.99h-3.8 M242.48 370.1v7.3 M58.1 231.45h-7.3 M249.86 370.1v3.8 M58.1 225.90h-3.8 M257.24 370.1v3.8 M58.1 220.35h-3.8 M264.61 370.1v3.8 M58.1 214.81h-3.8 M271.99 370.1v3.8 M58.1 209.26h-3.8 M279.36 370.1v7.3 M58.1 203.72h-7.3 M286.74 370.1v3.8 M58.1 198.17h-3.8 M294.11 370.1v3.8 M58.1 192.62h-3.8 M301.49 370.1v3.8 M58.1 187.08h-3.8 M308.86 370.1v3.8 M58.1 181.53h-3.8 M316.24 370.1v7.3 M58.1 175.98h-7.3 M323.61 370.1v3.8 M58.1 170.44h-3.8 M330.99 370.1v3.8 M58.1 164.89h-3.8 M338.36 370.1v3.8 M58.1 159.35h-3.8 M345.74 370.1v3.8 M58.1 153.80h-3.8 M353.12 370.1v7.3 M58.1 148.25h-7.3 M360.49 370.1v3.8 M58.1 142.71h-3.8 M367.87 370.1v3.8 M58.1 137.16h-3.8 M375.24 370.1v3.8 M58.1 131.62h-3.8 M382.62 370.1v3.8 M58.1 126.07h-3.8 M389.99 370.1v7.3 M58.1 120.52h-7.3 M397.37 370.1v3.8 M58.1 114.98h-3.8 M404.74 370.1v3.8 M58.1 109.43h-3.8 M412.12 370.1v3.8 M58.1 103.88h-3.8 M419.49 370.1v3.8 M58.1 98.34h-3.8 M426.87 370.1v7.3 M58.1 92.79h-7.3 M434.24 370.1v3.8 M58.1 87.25h-3.8 M441.62 370.1v3.8 M58.1 81.70h-3.8 M449.00 370.1v3.8 M58.1 76.15h-3.8 M456.37 370.1v3.8 M58.1 70.61h-3.8 M463.75 370.1v7.3 M58.1 65.06h-7.3 M471.12 370.1v3.8 M58.1 59.52h-3.8 M478.50 370.1v3.8 M58.1 53.97h-3.8 M485.87 370.1v3.8 M58.1 48.42h-3.8 M493.25 370.1v3.8 M58.1 42.88h-3.8 M500.62 370.1v7.3 M58.1 37.33h-7.3 M508.00 370.1v3.8 M58.1 31.78h-3.8 M515.37 370.1v3.8 M58.1 26.24h-3.8 M522.75 370.1v3.8 M58.1 20.69h-3.8 M530.12 370.1v3.8 M58.1 15.15h-3.8 M537.50 370.1v7.3 M58.1 9.60h-7.3" stroke="#2a2a2a" stroke-width="1.2" fill="none"/>
<text transform="translate(58.10 394.1) scale(0.975 1)" text-anchor="middle" class="tl">0</text>
<text transform="translate(44.2 374.20) scale(0.975 1)" text-anchor="end" class="tl">0</text>
<text transform="translate(94.98 394.1) scale(0.975 1)" text-anchor="middle" class="tl">10</text>
<text transform="translate(44.2 346.47) scale(0.975 1)" text-anchor="end" class="tl">10</text>
<text transform="translate(131.85 394.1) scale(0.975 1)" text-anchor="middle" class="tl">20</text>
<text transform="translate(44.2 318.74) scale(0.975 1)" text-anchor="end" class="tl">20</text>
<text transform="translate(168.73 394.1) scale(0.975 1)" text-anchor="middle" class="tl">30</text>
<text transform="translate(44.2 291.01) scale(0.975 1)" text-anchor="end" class="tl">30</text>
<text transform="translate(205.61 394.1) scale(0.975 1)" text-anchor="middle" class="tl">40</text>
<text transform="translate(44.2 263.28) scale(0.975 1)" text-anchor="end" class="tl">40</text>
<text transform="translate(242.48 394.1) scale(0.975 1)" text-anchor="middle" class="tl">50</text>
<text transform="translate(44.2 235.55) scale(0.975 1)" text-anchor="end" class="tl">50</text>
<text transform="translate(279.36 394.1) scale(0.975 1)" text-anchor="middle" class="tl">60</text>
<text transform="translate(44.2 207.82) scale(0.975 1)" text-anchor="end" class="tl">60</text>
<text transform="translate(316.24 394.1) scale(0.975 1)" text-anchor="middle" class="tl">70</text>
<text transform="translate(44.2 180.08) scale(0.975 1)" text-anchor="end" class="tl">70</text>
<text transform="translate(353.12 394.1) scale(0.975 1)" text-anchor="middle" class="tl">80</text>
<text transform="translate(44.2 152.35) scale(0.975 1)" text-anchor="end" class="tl">80</text>
<text transform="translate(389.99 394.1) scale(0.975 1)" text-anchor="middle" class="tl">90</text>
<text transform="translate(44.2 124.62) scale(0.975 1)" text-anchor="end" class="tl">90</text>
<text transform="translate(426.87 394.1) scale(0.975 1)" text-anchor="middle" class="tl">100</text>
<text transform="translate(44.2 96.89) scale(0.975 1)" text-anchor="end" class="tl">100</text>
<text transform="translate(463.75 394.1) scale(0.975 1)" text-anchor="middle" class="tl">110</text>
<text transform="translate(44.2 69.16) scale(0.975 1)" text-anchor="end" class="tl">110</text>
<text transform="translate(500.62 394.1) scale(0.975 1)" text-anchor="middle" class="tl">120</text>
<text transform="translate(44.2 41.43) scale(0.975 1)" text-anchor="end" class="tl">120</text>
<text transform="translate(537.50 394.1) scale(0.975 1)" text-anchor="middle" class="tl">130</text>
<text transform="translate(44.2 13.70) scale(0.975 1)" text-anchor="end" class="tl">130</text>
<text transform="translate(165 409.6) scale(0.965 1)" class="al">Predicted compressive strength, <tspan font-style="italic">f</tspan><tspan font-style="italic" font-size="9.1" dy="3">c,pred</tspan><tspan dy="-3"> [MPa]</tspan></text>
<text transform="translate(15.9 326.5) rotate(-90)" class="al2">Measured compressive strength, <tspan font-style="italic">f</tspan><tspan font-style="italic" font-size="8.3" dx="-1.4" dy="3">c,test</tspan><tspan dy="-3"> [MPa]</tspan></text>
<rect x="286.4" y="279.1" width="247.7" height="87.5" fill="#fff" stroke="#c4c4c4" stroke-width="1.5"/>
<circle cx="326" cy="292.2" r="5.4" fill="none" stroke="#ff0000" stroke-width="1.1"/>
<rect x="320.1" y="301.75" width="11.8" height="11.8" fill="none" stroke="#0000ff" stroke-width="1.2"/>
<path d="M326 317.7L331.4 323.09999999999997L326 328.49999999999994L320.6 323.09999999999997Z" fill="none" stroke="#005a00" stroke-width="1.2"/>
<path d="M326 335.3L331.3 343.3L320.7 343.3Z" fill="none" stroke="#000000" stroke-width="1.2"/>
<line x1="292.7" y1="354" x2="359" y2="354" stroke="#b0b0b0" stroke-width="1"/>
<text transform="translate(366.6 296.00) scale(0.955 1)" class="lg">Multi-variate regression</text>
<text transform="translate(366.6 311.35) scale(0.955 1)" class="lg">Artificial neural network (ANN)</text>
<text transform="translate(366.6 326.70) scale(0.955 1)" class="lg">Support vector machine (SVM)</text>
<text transform="translate(366.6 342.05) scale(0.955 1)" class="lg">Gaussian Process Regression (GPR)</text>
<text transform="translate(366.6 357.40) scale(0.955 1)" class="lg">Line of equality</text>
</svg>
</body></html>
